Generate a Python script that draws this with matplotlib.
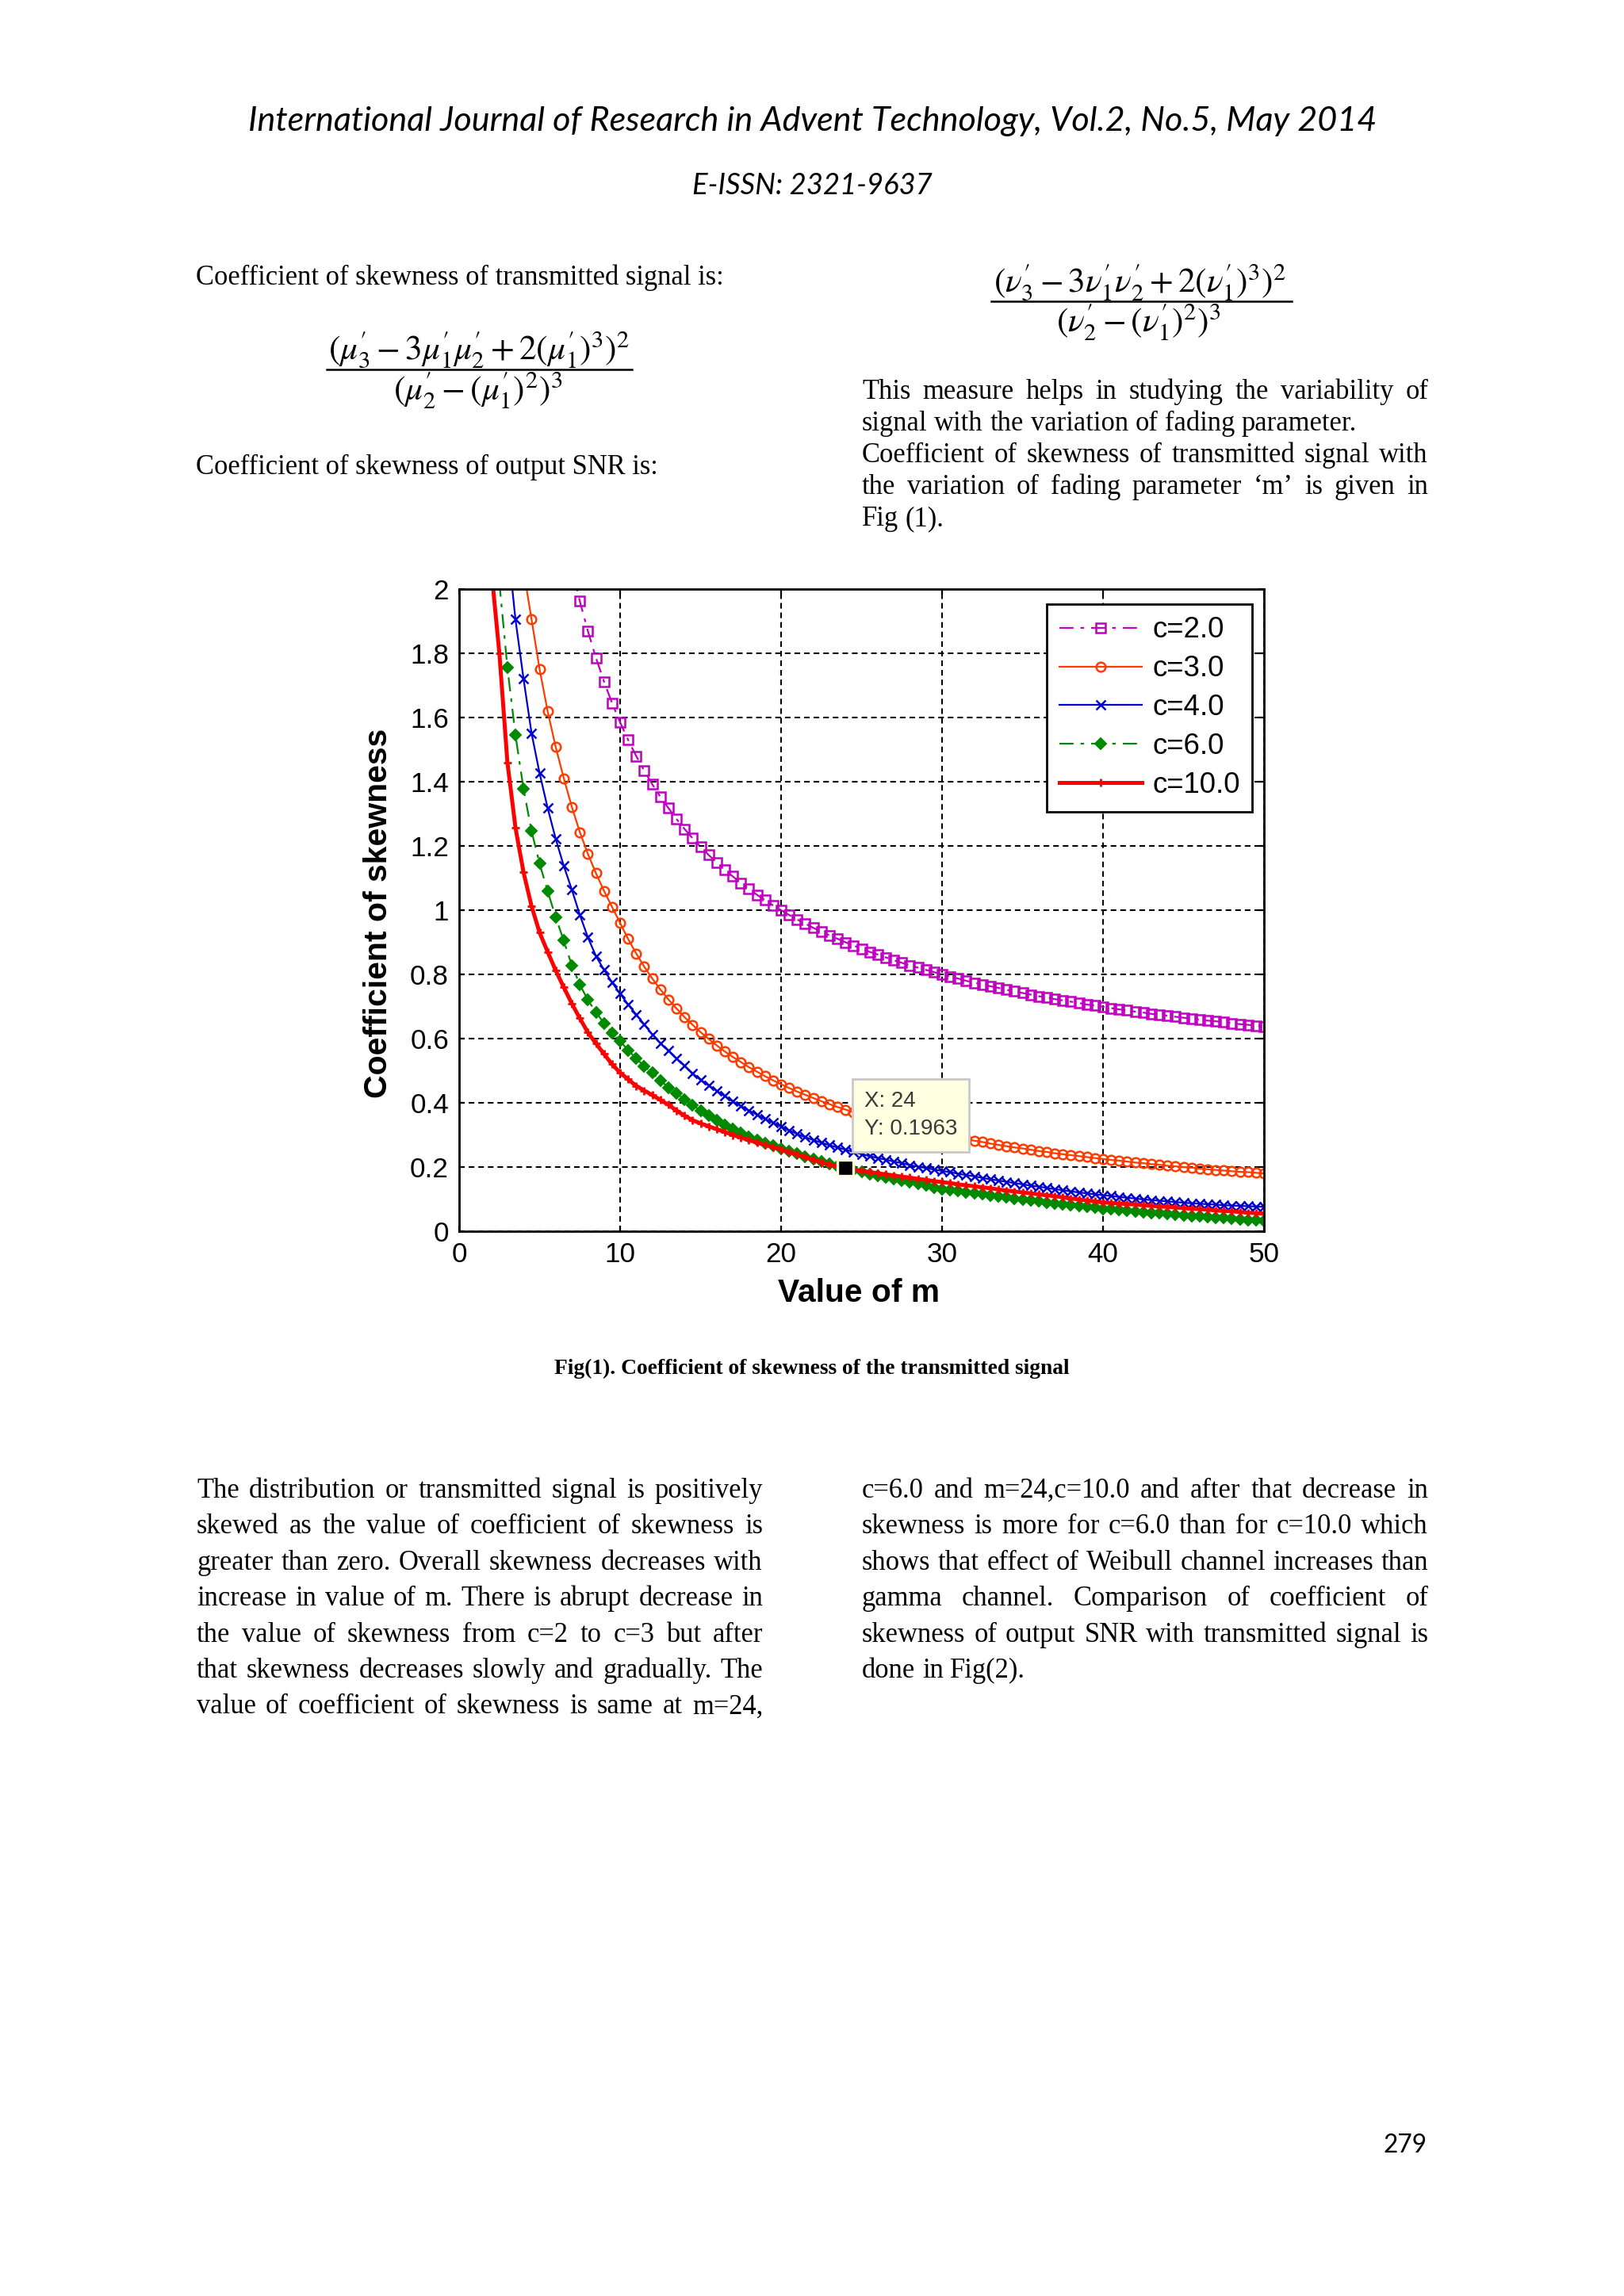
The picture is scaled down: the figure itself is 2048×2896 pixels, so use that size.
import numpy as np
import matplotlib
matplotlib.use("Agg")
import matplotlib.pyplot as plt
from matplotlib.lines import Line2D

# ---------------- data ----------------
M_GRID = np.arange(2.0, 50.001, 0.5)          # values of m (step 0.5)
C_LABELS = ["c=2.0", "c=3.0", "c=4.0", "c=6.0", "c=10.0"]

SKEW_C2 = [2.068, 1.962, 1.869, 1.786, 1.712, 1.645, 1.585, 1.530, 1.480, 1.434,
           1.392, 1.353, 1.318, 1.284, 1.253, 1.224, 1.197, 1.172, 1.148, 1.126,
           1.105, 1.085, 1.066, 1.048, 1.031, 1.015, 1.000, 0.985, 0.971, 0.958,
           0.945, 0.933, 0.922, 0.911, 0.900, 0.890, 0.880, 0.870, 0.862, 0.853,
           0.844, 0.836, 0.828, 0.821, 0.814, 0.807, 0.800, 0.793, 0.787, 0.780,
           0.774, 0.769, 0.763, 0.758, 0.752, 0.747, 0.742, 0.737, 0.732, 0.728,
           0.723, 0.719, 0.715, 0.711, 0.706, 0.703, 0.699, 0.695, 0.691, 0.688,
           0.684, 0.681, 0.677, 0.674, 0.671, 0.668, 0.665, 0.662, 0.659, 0.656,
           0.654, 0.651, 0.648, 0.645, 0.643, 0.640, 0.638]

SKEW_C3 = [2.060, 1.905, 1.750, 1.619, 1.508, 1.411, 1.322, 1.243, 1.175, 1.115,
           1.060, 1.010, 0.960, 0.910, 0.865, 0.824, 0.787, 0.753, 0.722, 0.694,
           0.667, 0.643, 0.620, 0.599, 0.579, 0.560, 0.543, 0.527, 0.511, 0.497,
           0.483, 0.470, 0.458, 0.446, 0.435, 0.425, 0.415, 0.405, 0.396, 0.387,
           0.379, 0.371, 0.363, 0.356, 0.349, 0.342, 0.336, 0.329, 0.323, 0.318,
           0.312, 0.307, 0.301, 0.296, 0.291, 0.287, 0.282, 0.278, 0.273, 0.269,
           0.265, 0.261, 0.258, 0.254, 0.250, 0.247, 0.243, 0.240, 0.237, 0.234,
           0.231, 0.228, 0.225, 0.222, 0.220, 0.217, 0.214, 0.212, 0.209, 0.207,
           0.204, 0.202, 0.200, 0.198, 0.195, 0.193, 0.191, 0.189, 0.187, 0.185,
           0.184, 0.182, 0.180]

SKEW_C4 = [2.150, 1.905, 1.721, 1.551, 1.426, 1.318, 1.222, 1.138, 1.064, 0.985,
           0.915, 0.857, 0.814, 0.775, 0.740, 0.706, 0.675, 0.644, 0.613, 0.586,
           0.562, 0.538, 0.515, 0.492, 0.471, 0.454, 0.437, 0.421, 0.404, 0.390,
           0.376, 0.363, 0.350, 0.338, 0.326, 0.314, 0.303, 0.293, 0.284, 0.276,
           0.268, 0.261, 0.254, 0.247, 0.240, 0.234, 0.228, 0.223, 0.217, 0.212,
           0.206, 0.201, 0.197, 0.192, 0.188, 0.184, 0.179, 0.175, 0.171, 0.166,
           0.162, 0.158, 0.154, 0.150, 0.146, 0.142, 0.139, 0.135, 0.131, 0.128,
           0.124, 0.121, 0.118, 0.115, 0.112, 0.110, 0.107, 0.104, 0.102, 0.099,
           0.097, 0.095, 0.093, 0.091, 0.089, 0.087, 0.086, 0.084, 0.083, 0.081,
           0.080, 0.079, 0.078, 0.077, 0.076]

SKEW_C6 = [2.020, 1.755, 1.545, 1.378, 1.246, 1.145, 1.059, 0.978, 0.905, 0.828,
           0.768, 0.720, 0.682, 0.648, 0.618, 0.592, 0.564, 0.538, 0.514, 0.493,
           0.470, 0.448, 0.430, 0.410, 0.393, 0.376, 0.360, 0.345, 0.331, 0.318,
           0.305, 0.294, 0.284, 0.275, 0.266, 0.258, 0.249, 0.241, 0.233, 0.225,
           0.217, 0.209, 0.202, 0.196, 0.190, 0.185, 0.179, 0.174, 0.168, 0.163,
           0.158, 0.152, 0.147, 0.142, 0.137, 0.132, 0.129, 0.125, 0.122, 0.118,
           0.115, 0.112, 0.108, 0.105, 0.102, 0.099, 0.096, 0.093, 0.090, 0.087,
           0.084, 0.081, 0.079, 0.076, 0.073, 0.070, 0.068, 0.066, 0.064, 0.062,
           0.060, 0.058, 0.056, 0.054, 0.052, 0.050, 0.048, 0.046, 0.044, 0.043,
           0.041, 0.039, 0.037, 0.035, 0.034, 0.032]

SKEW_C10 = [2.060, 1.800, 1.460, 1.257, 1.118, 1.012, 0.930, 0.870, 0.812, 0.760,
            0.709, 0.663, 0.619, 0.585, 0.552, 0.520, 0.494, 0.473, 0.453, 0.438,
            0.424, 0.409, 0.394, 0.376, 0.360, 0.346, 0.336, 0.327, 0.318, 0.309,
            0.300, 0.292, 0.284, 0.276, 0.269, 0.262, 0.255, 0.247, 0.239, 0.231,
            0.223, 0.215, 0.208, 0.202, 0.196, 0.192, 0.188, 0.184, 0.181, 0.177,
            0.174, 0.170, 0.167, 0.163, 0.160, 0.156, 0.153, 0.150, 0.146, 0.143,
            0.140, 0.137, 0.134, 0.130, 0.127, 0.124, 0.121, 0.118, 0.115, 0.112,
            0.109, 0.106, 0.102, 0.099, 0.096, 0.093, 0.090, 0.088, 0.086, 0.085,
            0.083, 0.081, 0.079, 0.077, 0.076, 0.074, 0.072, 0.070, 0.069, 0.067,
            0.065, 0.063, 0.062, 0.060, 0.058, 0.056, 0.055]

X_TICKS = [0, 10, 20, 30, 40, 50]
Y_TICKS = [0, 0.2, 0.4, 0.6, 0.8, 1.0, 1.2, 1.4, 1.6, 1.8, 2.0]
Y_TICK_LABELS = ["0", "0.2", "0.4", "0.6", "0.8", "1", "1.2", "1.4", "1.6", "1.8", "2"]
TIP_X, TIP_Y = 24, 0.1963

HEADER_1 = "International Journal of Research in Advent Technology, Vol.2, No.5, May 2014"
HEADER_2 = "E-ISSN: 2321-9637"
LEFT_TOP_1 = "Coefficient of skewness of transmitted signal is:"
LEFT_TOP_2 = "Coefficient of skewness of output SNR is:"
RIGHT_TOP = ["This measure helps in studying the variability of",
             "signal with the variation of fading parameter.",
             "Coefficient of skewness of transmitted signal with",
             "the variation of fading parameter \u2018m\u2019 is given in",
             "Fig (1)."]
RIGHT_TOP_LAST = [False, True, False, False, True]
CAPTION = "Fig(1). Coefficient of skewness of the transmitted signal"
LEFT_BOTTOM = ["The distribution or transmitted signal is positively",
               "skewed as the value of coefficient of skewness is",
               "greater than zero. Overall skewness decreases with",
               "increase in value of m. There is abrupt decrease in",
               "the value of skewness from c=2 to c=3 but after",
               "that skewness decreases slowly and gradually. The",
               "value of coefficient of skewness is same at m=24,"]
RIGHT_BOTTOM = ["c=6.0 and m=24,c=10.0  and after that decrease in",
                "skewness is more for c=6.0 than for c=10.0 which",
                "shows that effect of Weibull channel increases than",
                "gamma channel. Comparison of coefficient of",
                "skewness of output SNR with transmitted signal is",
                "done in Fig(2)."]
PAGE_NO = "279"

NUM_MU = r"$(\mu_3^{\prime}-3\mu_1^{\prime}\mu_2^{\prime}+2(\mu_1^{\prime})^3)^2$"
DEN_MU = r"$(\mu_2^{\prime}-(\mu_1^{\prime})^2)^3$"
NUM_NU = r"$(\nu_3^{\prime}-3\nu_1^{\prime}\nu_2^{\prime}+2(\nu_1^{\prime})^3)^2$"
DEN_NU = r"$(\nu_2^{\prime}-(\nu_1^{\prime})^2)^3$"

# ---------------- page setup ----------------
plt.rcParams['font.family'] = ['Liberation Sans Narrow', 'Liberation Sans', 'DejaVu Sans']
plt.rcParams['mathtext.fontset'] = 'stix'

W, H, DPI = 2048, 2896, 200
fig = plt.figure(figsize=(W / DPI, H / DPI), dpi=DPI)
fig.patch.set_facecolor('white')
R = fig.canvas.get_renderer()

SERIF = ['Liberation Serif', 'DejaVu Serif']
HUMAN = ['Lato', 'Liberation Sans', 'DejaVu Sans']
BODY_FS = 12.45


def P(x, y):
    return (x / W, 1 - y / H)


def wid(t):
    return t.get_window_extent(renderer=R).width


def fit_text(s, x, y, target_w, ha='left', va='baseline', rotation=0, **kw):
    t = fig.text(*P(x, y), s, fontsize=10, ha=ha, va=va, **kw)
    w = wid(t)
    t.set_fontsize(10 * target_w / w)
    if rotation:
        t.set_rotation(rotation)
    return t


def justify(line, x0, x1, y, fs, last=False, **kw):
    words = line.split()
    ts = [fig.text(*P(x0, y), w, fontsize=fs, ha='left', va='baseline', **kw) for w in words]
    ws = [wid(t) for t in ts]
    if last or len(words) == 1:
        a = fig.text(0, 0, 'n n', fontsize=fs, **kw)
        b = fig.text(0, 0, 'nn', fontsize=fs, **kw)
        gap = wid(a) - wid(b)
        a.remove(); b.remove()
    else:
        gap = (x1 - x0 - sum(ws)) / (len(words) - 1)
    x = x0
    for t, w in zip(ts, ws):
        t.set_x(x / W)
        x += w + gap


# header
fit_text(HEADER_1, 1025, 165, 1424, ha='center', family=HUMAN, style='italic')
fit_text(HEADER_2, 1024, 245, 303, ha='center', family=HUMAN, style='italic')

# top-left text and formula
fig.text(*P(247, 359), LEFT_TOP_1, fontsize=BODY_FS, family=SERIF, va='baseline')
fig.text(*P(247, 598), LEFT_TOP_2, fontsize=BODY_FS, family=SERIF, va='baseline')

t = fit_text(NUM_MU, 604, 453, 381, ha='center', va='baseline')
fig.text(*P(603, 505), DEN_MU, fontsize=t.get_fontsize(), ha='center', va='baseline')
fig.add_artist(Line2D([412 / W, 797 / W], [1 - 466 / H] * 2, color='black', lw=0.9))

# top-right formula and paragraph
t = fit_text(NUM_NU, 1438, 368, 370, ha='center', va='baseline')
fig.text(*P(1436, 419), DEN_NU, fontsize=t.get_fontsize(), ha='center', va='baseline')
fig.add_artist(Line2D([1250 / W, 1629 / W], [1 - 380 / H] * 2, color='black', lw=0.9))

for i, (ln, last) in enumerate(zip(RIGHT_TOP, RIGHT_TOP_LAST)):
    justify(ln, 1087, 1801, 503 + 40 * i, BODY_FS, last=last, family=SERIF)

# ---------------- chart ----------------
ax = fig.add_axes([579 / W, 1 - 1553 / H, 1015 / W, 810 / H])

styles = [
    dict(color='#c000c0', marker='s', ms=4.3, mfc='none', mew=0.9, lw=0.8,
         linestyle=(0, (8, 4, 2, 4))),
    dict(color='#ff3c00', marker='o', ms=4.2, mfc='none', mew=0.9, lw=0.8, linestyle='-'),
    dict(color='#0000cc', marker='x', ms=4.2, mew=0.9, lw=0.8, linestyle='-'),
    dict(color='#008a00', marker='D', ms=3.5, mew=0.7, lw=0.8,
         linestyle=(0, (8, 4, 2, 4))),
    dict(color='#ff0000', marker='+', ms=3.8, mew=1.0, lw=1.8, linestyle='-'),
]
series = [SKEW_C2, SKEW_C3, SKEW_C4, SKEW_C6, SKEW_C10]
handles = []
for y, st, lab in zip(series, styles, C_LABELS):
    x = M_GRID[len(M_GRID) - len(y):]
    h, = ax.plot(x, y, label=lab, **st)
    handles.append(h)

ax.set_xlim(0, 50)
ax.set_ylim(0, 2)
ax.set_xticks(X_TICKS)
ax.set_yticks(Y_TICKS)
ax.set_yticklabels(Y_TICK_LABELS)
ax.grid(True, color='black', linestyle=(0, (3.4, 2.4)), linewidth=0.75)
ax.set_axisbelow(True)
ax.tick_params(direction='in', length=2.5, width=0.8, top=True, right=True,
               labelsize=12.6, pad=4.7, colors='black')
for sp in ax.spines.values():
    sp.set_linewidth(1.0)

# axis labels
fit_text('Coefficient of skewness', 477, 1152, 468, ha='center', va='center',
         rotation=90, fontweight='bold')
fit_text('Value of m', 1083, 1642, 204, ha='center', fontweight='bold')

# legend
leg = ax.legend(handles, C_LABELS, loc='upper right', bbox_to_anchor=P(1579, 762),
                bbox_transform=fig.transFigure, borderaxespad=0, frameon=True,
                fancybox=False, edgecolor='black', framealpha=1, fontsize=13.2,
                handlelength=2.85, handletextpad=0.35, labelspacing=0.38,
                borderpad=0.42, numpoints=1)
leg.get_frame().set_linewidth(1.0)

# data tip
ax.plot([TIP_X], [TIP_Y], marker='s', ms=7.5, color='black', mfc='black',
        mec='#fffbe0', mew=1.2, zorder=10, clip_on=False)
ax.annotate(f"X: {TIP_X}\nY: {TIP_Y}", xy=(TIP_X, TIP_Y), xytext=(8.5, 24),
            textcoords='offset points', ha='left', va='center', fontsize=10,
            family=['Liberation Sans', 'DejaVu Sans'], color='#3a3a3a', linespacing=1.45,
            bbox=dict(boxstyle='square,pad=0.55', fc='#ffffe1', ec='#c9c9c9', lw=1),
            zorder=11)

# caption
fit_text(CAPTION, 1024, 1733, 651, ha='center', family=SERIF, fontweight='bold')

# bottom paragraphs
for i, ln in enumerate(LEFT_BOTTOM):
    justify(ln, 248, 962, 1889 + 45.4 * i, BODY_FS, family=SERIF)
for i, ln in enumerate(RIGHT_BOTTOM):
    justify(ln, 1087, 1801, 1889 + 45.4 * i, BODY_FS, last=(i == len(RIGHT_BOTTOM) - 1),
            family=SERIF)

fit_text(PAGE_NO, 1745, 2715, 55, family=HUMAN)

fig.savefig('out.png', dpi=DPI, facecolor='white')
